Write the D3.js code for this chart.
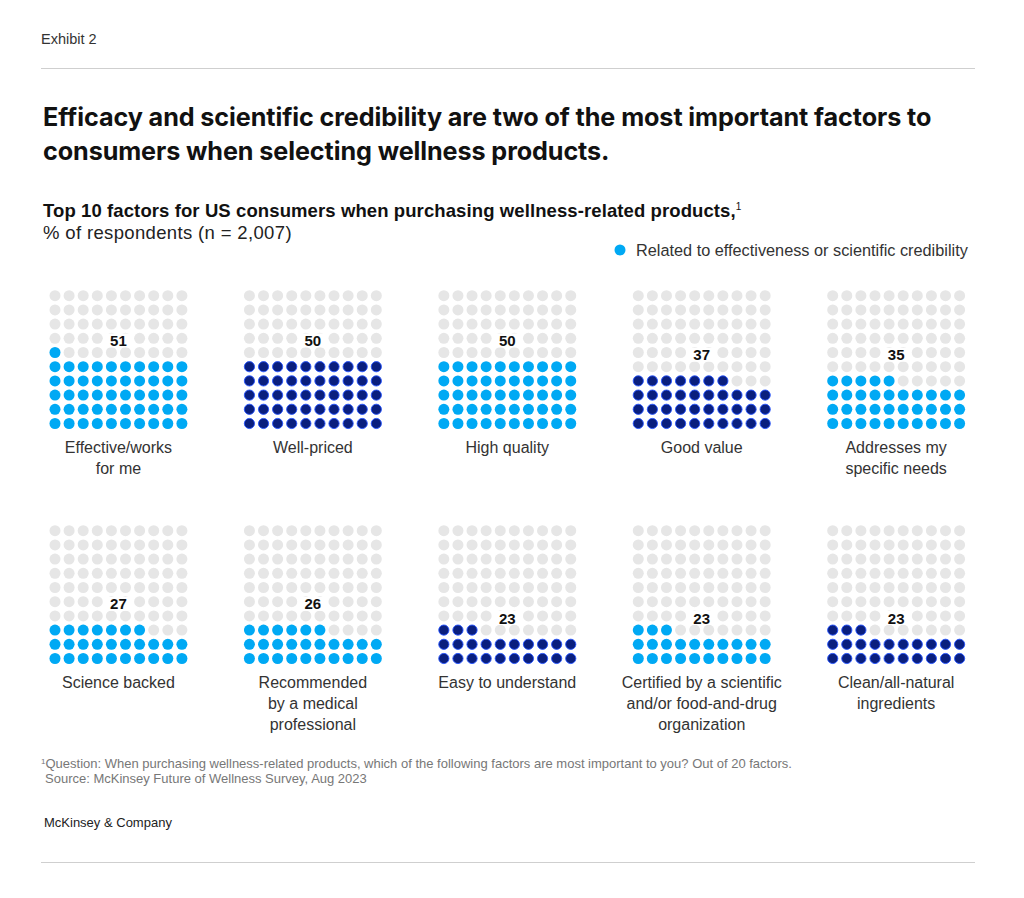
<!DOCTYPE html>
<html><head><meta charset="utf-8">
<script src="https://cdn.jsdelivr.net/npm/d3@7"></script>
<style>
body{margin:0;background:#fff;}
svg text{font-family:"Liberation Sans",Arial,sans-serif;}
</style></head>
<body>
<svg id="chart" width="1024" height="898"></svg>
<script>
const categories = [
  ["Effective/works", "for me"],
  ["Well-priced"],
  ["High quality"],
  ["Good value"],
  ["Addresses my", "specific needs"],
  ["Science backed"],
  ["Recommended", "by a medical", "professional"],
  ["Easy to understand"],
  ["Certified by a scientific", "and/or food-and-drug", "organization"],
  ["Clean/all-natural", "ingredients"]
];
const values = [51, 50, 50, 37, 35, 27, 26, 23, 23, 23];
const efficacyRelated = [true, false, true, false, true, true, true, false, true, false];
const titleLines = [
  "Efficacy and scientific credibility are two of the most important factors to",
  "consumers when selecting wellness products."
];
const subtitle = "Top 10 factors for US consumers when purchasing wellness-related products,";
const unitLabel = "% of respondents (n = 2,007)";
const legendLabel = "Related to effectiveness or scientific credibility";
const footnotes = [
  "Question: When purchasing wellness-related products, which of the following factors are most important to you? Out of 20 factors.",
  "Source: McKinsey Future of Wellness Survey, Aug 2023"
];

const svg = d3.select("#chart");
const cLight = "#00a9f4", cDark = "#0a1f7e", cDarkEdge = "#2251ff", cGray = "#e6e6e6";

svg.append("text").attr("x", 41).attr("y", 44).attr("font-size", 14.5).attr("fill", "#333").text("Exhibit 2");
svg.append("line").attr("x1", 41).attr("x2", 975).attr("y1", 68.5).attr("y2", 68.5).attr("stroke", "#cfcfcf");

svg.append("g").selectAll("text").data(titleLines).join("text")
  .attr("x", 43).attr("y", (d, i) => 126 + i * 34)
  .attr("font-size", 25.2).attr("font-weight", "bold").attr("fill", "#111")
  .style("font-family", "Inter, 'Liberation Sans', sans-serif").style("letter-spacing", "-0.1px")
  .text(d => d);

const st = svg.append("text").attr("x", 43).attr("y", 217).attr("font-size", 18.5).attr("font-weight", "bold").attr("fill", "#111")
  .style("letter-spacing", "0.1px");
st.append("tspan").text(subtitle);
st.append("tspan").attr("font-size", 10).attr("dy", -7).attr("font-weight", "normal").text("1");
svg.append("text").attr("x", 43).attr("y", 239).attr("font-size", 18.5).attr("fill", "#222")
  .style("letter-spacing", "0.35px").text(unitLabel);

svg.append("circle").attr("cx", 620).attr("cy", 250).attr("r", 5.5).attr("fill", cLight);
svg.append("text").attr("x", 636).attr("y", 256).attr("font-size", 16.3).attr("fill", "#333").text(legendLabel);

// grid geometry
const cols = 10, rows = 10;
const panelX = d3.scaleLinear().domain([0, 4]).range([55, 832.7]);
const rowY = d3.scaleOrdinal().domain([0, 1]).range([295.7, 530.7]);
const dx = 14.1, dy = 14.2, r = 5.5;
const colScale = d3.scaleLinear().domain([0, cols - 1]).range([0, (cols - 1) * dx]);
const rowScale = d3.scaleLinear().domain([0, rows - 1]).range([0, (rows - 1) * dy]);

const panels = svg.append("g").selectAll("g").data(values.map((v, i) => ({v, i, cat: categories[i], eff: efficacyRelated[i]})))
  .join("g")
  .attr("transform", d => `translate(${panelX(d.i % 5)},${rowY(Math.floor(d.i / 5))})`);

panels.each(function(d) {
  const g = d3.select(this);
  const cells = d3.range(100).map(k => {
    const fromBottom = Math.floor(k / 10), col = k % 10;
    return {row: rows - 1 - fromBottom, col, filled: k < d.v};
  });
  g.selectAll("circle").data(cells).join("circle")
    .attr("cx", c => colScale(c.col)).attr("cy", c => rowScale(c.row)).attr("r", c => c.filled && !d.eff ? r - 0.4 : r)
    .attr("fill", c => c.filled ? (d.eff ? cLight : cDark) : cGray)
    .attr("stroke", c => c.filled && !d.eff ? cDarkEdge : "none")
    .attr("stroke-width", 0.9);
  // value label: above the top filled dot in the middle column
  const full = Math.floor(d.v / 10), rem = d.v % 10;
  const topRow = 4 < rem ? rows - 1 - full : rows - full;
  const ly = rowScale(topRow - 1.85);
  const cx = colScale(4.5);
  g.append("rect").attr("x", cx - 14).attr("y", ly - 7).attr("width", 28).attr("height", 14).attr("fill", "#fff");
  g.append("text").attr("x", cx).attr("y", ly + 5.5).attr("text-anchor", "middle")
    .attr("font-size", 15).attr("font-weight", "bold").attr("fill", "#111").text(d.v);
  g.append("g").selectAll("text").data(d.cat).join("text")
    .attr("x", cx).attr("y", (t, j) => rowScale(rows - 1) + 30 + j * 21)
    .attr("text-anchor", "middle").attr("font-size", 16).attr("fill", "#333").text(t => t);
});

const fn = svg.append("g").attr("font-size", 13).attr("fill", "#777");
const f1 = fn.append("text").attr("x", 41).attr("y", 768);
f1.append("tspan").attr("font-size", 8).attr("dy", -4).text("1");
f1.append("tspan").attr("dy", 4).text(footnotes[0]);
fn.append("text").attr("x", 45).attr("y", 783).text(footnotes[1]);

svg.append("text").attr("x", 44).attr("y", 827).attr("font-size", 13).attr("fill", "#222").text("McKinsey & Company");
svg.append("line").attr("x1", 41).attr("x2", 975).attr("y1", 862.5).attr("y2", 862.5).attr("stroke", "#cfcfcf");
</script>
</body></html>
